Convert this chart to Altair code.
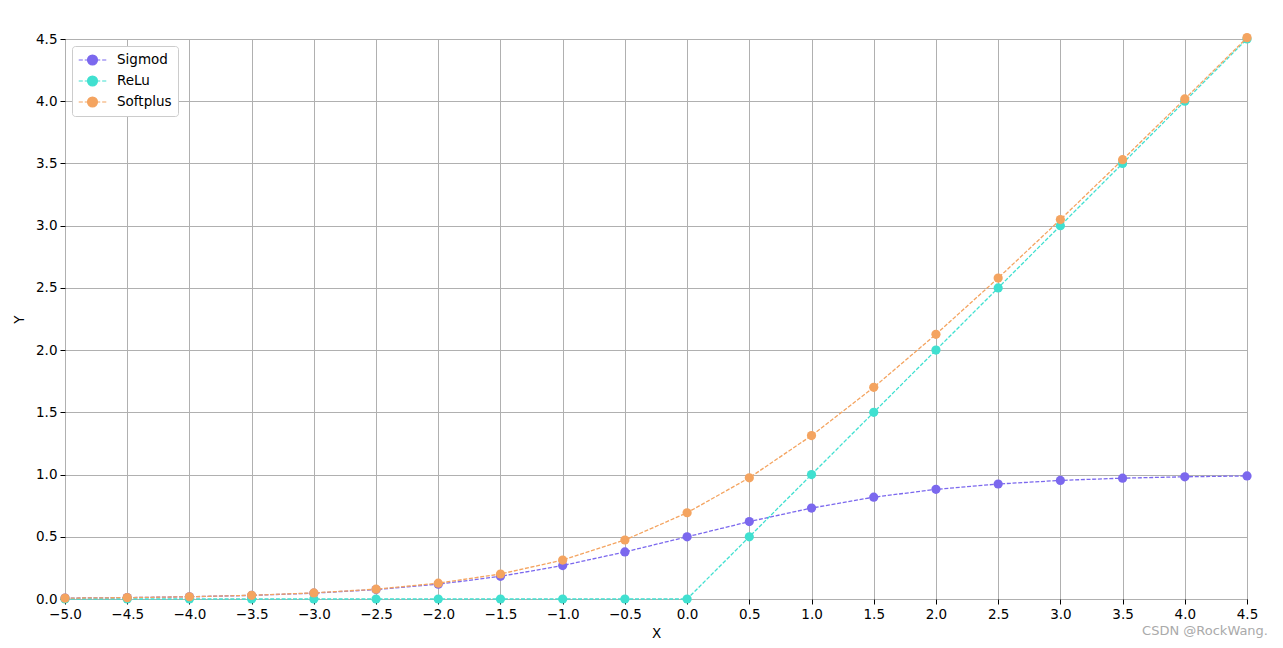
import altair as alt
import pandas as pd

xs = [-5.0, -4.5, -4.0, -3.5, -3.0, -2.5, -2.0, -1.5, -1.0, -0.5,
      0.0, 0.5, 1.0, 1.5, 2.0, 2.5, 3.0, 3.5, 4.0, 4.5]
sigmod = [0.007, 0.011, 0.018, 0.029, 0.047, 0.076, 0.119, 0.182, 0.269, 0.378,
          0.500, 0.622, 0.731, 0.818, 0.881, 0.924, 0.953, 0.971, 0.982, 0.989]
relu = [0.0, 0.0, 0.0, 0.0, 0.0, 0.0, 0.0, 0.0, 0.0, 0.0,
        0.0, 0.5, 1.0, 1.5, 2.0, 2.5, 3.0, 3.5, 4.0, 4.5]
softplus = [0.007, 0.011, 0.018, 0.030, 0.049, 0.079, 0.127, 0.201, 0.313, 0.474,
            0.693, 0.974, 1.313, 1.701, 2.127, 2.579, 3.049, 3.530, 4.018, 4.511]
series = ["Sigmod", "ReLu", "Softplus"]
colors = ["#7B68EE", "#40E0D0", "#F4A460"]
x_ticks = [-5.0 + 0.5 * i for i in range(20)]
y_ticks = [0.5 * i for i in range(10)]

rows = []
for name, vals in zip(series, [sigmod, relu, softplus]):
    for x, y in zip(xs, vals):
        rows.append({"x": x, "y": y, "s": name})
df = pd.DataFrame(rows)

minus = "replace(format(datum.value, '.1f'), '-', '\u2212')"
FONT = "DejaVu Sans"

xenc = alt.X("x:Q", scale=alt.Scale(domain=[-5, 4.5], nice=False, zero=False),
             axis=alt.Axis(values=x_ticks, labelExpr=minus, title="X",
                           labelFlush=False, labelOverlap=False))
yenc = alt.Y("y:Q", scale=alt.Scale(domain=[0, 4.5], nice=False),
             axis=alt.Axis(values=y_ticks, labelExpr=minus, title="Y",
                           labelFlush=False, labelOverlap=False))

sym = ("M-1,0H-0.7M-0.56,0H-0.36M0.36,0H0.56M0.7,0H1"
       "M-0.36,0A0.36,0.36 0 1,1 0.36,0A0.36,0.36 0 1,1 -0.36,0Z")

color = alt.Color("s:N", scale=alt.Scale(domain=series, range=colors),
                  legend=alt.Legend(title=None, orient="none", legendX=7, legendY=7,
                                    symbolType=sym, symbolSize=760,
                                    symbolStrokeWidth=1.2, labelFontSize=13.5,
                                    labelFont=FONT, fillColor="white",
                                    strokeColor="#cccccc", padding=6,
                                    cornerRadius=3, rowPadding=5, clipHeight=16,
                                    labelOffset=10, labelColor="black"))

lines = alt.Chart(df).mark_line(strokeDash=[4, 1.7], strokeWidth=1.3, clip=False).encode(
    x=xenc, y=yenc, color=color)

points = alt.Chart(df).mark_point(filled=True, size=85, opacity=1, clip=False).encode(
    x=xenc, y=yenc, color=color)

wm = alt.Chart(pd.DataFrame({"t": ["CSDN @RockWang."]})).mark_text(
    align="right", baseline="middle", fontSize=13, font=FONT, color="#aaaaaa",
).encode(x=alt.value(1203), y=alt.value(592), text="t:N")

layers = []
for name in series:
    layers.append(lines.transform_filter(alt.datum.s == name))
    layers.append(points.transform_filter(alt.datum.s == name))

chart = alt.layer(*layers, wm).properties(
    width=1182, height=560,
    autosize=alt.AutoSizeParams(type="none"),
    padding={"left": 57, "top": 31, "right": 28, "bottom": 41},
).configure_view(stroke="black", strokeWidth=1).configure_axis(
    grid=True, gridColor="#b0b0b0", gridWidth=1, domain=False,
    tickColor="black", tickSize=5, tickWidth=1,
    labelFont=FONT, labelFontSize=13.5, labelColor="black", labelPadding=3,
    titleFont=FONT, titleFontSize=13.5, titleFontWeight="normal", titleColor="black",
).configure_axisX(titlePadding=6).configure_axisY(titlePadding=9)

chart.save("out.html", embed_options={"renderer": "svg", "actions": False})
